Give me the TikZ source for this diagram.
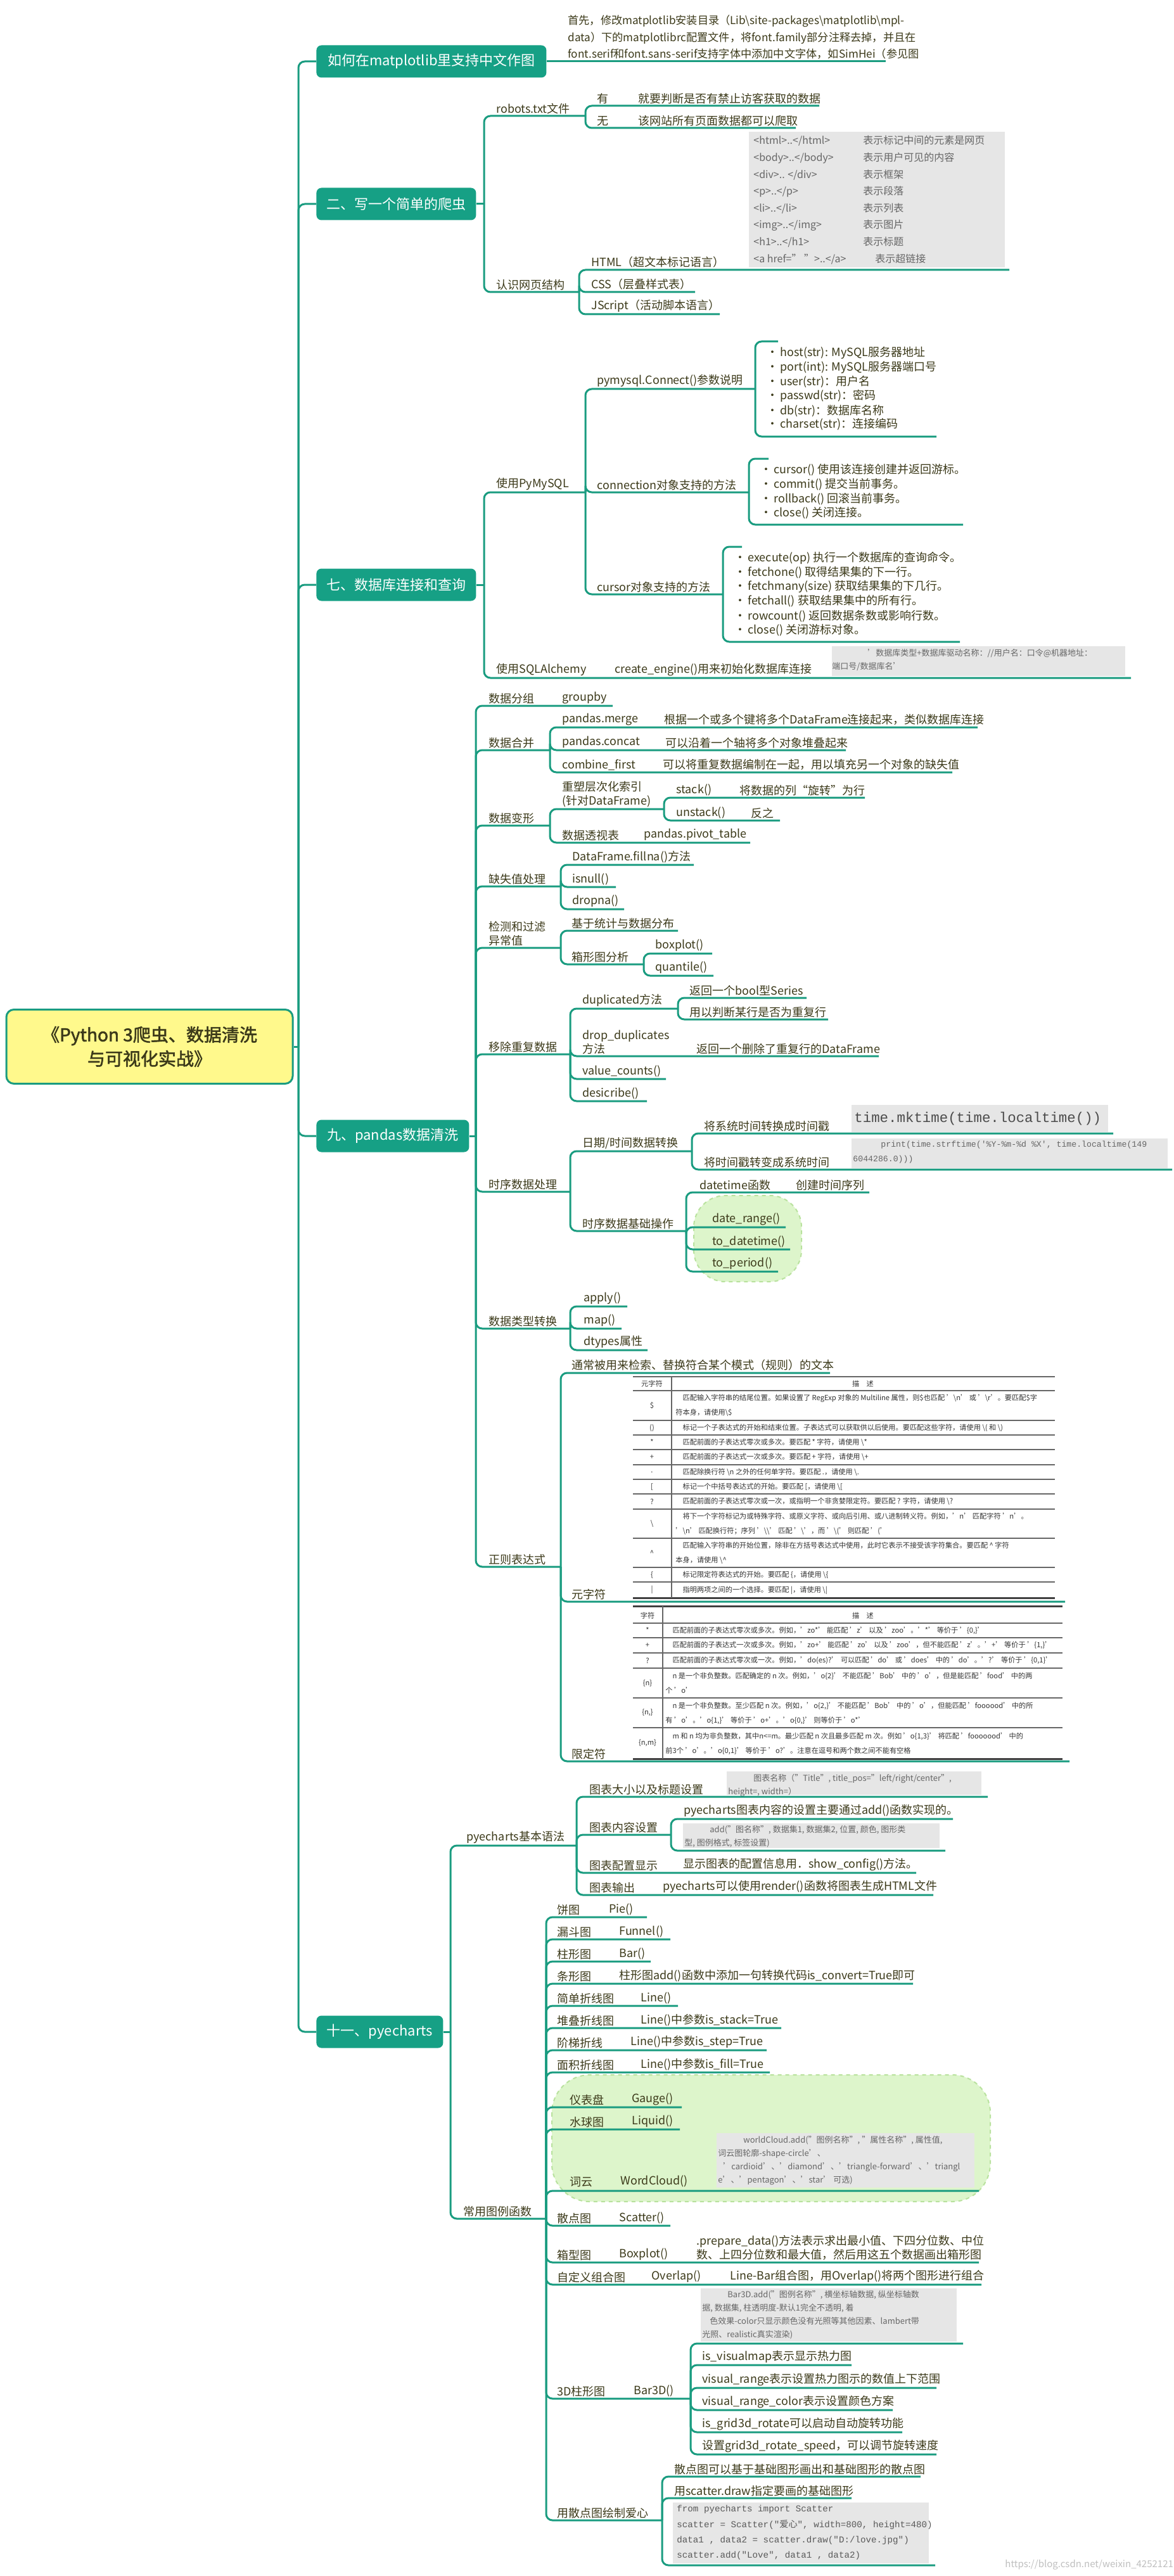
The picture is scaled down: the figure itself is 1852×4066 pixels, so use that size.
\documentclass[tikz,border=0pt]{standalone}
\usepackage{fontspec}
\setmainfont{Noto Sans CJK SC}[AutoFakeBold=2]
\newfontfamily\cjk{Noto Sans CJK SC}
\newfontfamily\mono{Liberation Mono}
\definecolor{ln}{HTML}{1A9C80}
\definecolor{brf}{HTML}{16A085}
\definecolor{txt}{HTML}{3C3A1A}
\definecolor{gbf}{HTML}{E6E6E6}
\definecolor{gtx}{HTML}{666666}
\definecolor{cloud}{HTML}{DDF5CB}
\definecolor{cloudb}{HTML}{B9E29E}
\newcommand\T[4]{\node[tx] (#1) at (#2,#3) {#4};}
\newcommand\U[4]{\draw[lk] (#1,#2) |- (#4,#3);}
\newcommand\G[5]{\node[gt] (#1) at (#2,#3) {#4};}
\tikzset{
 tx/.style={anchor=south west,inner sep=0pt,yshift=1.5pt,align=left,font=\fontsize{9}{11}\selectfont,text=txt},
 gt/.style={anchor=north west,inner sep=0pt,align=left,font=\fontsize{6.5}{10.5}\selectfont,text=gtx},
 lk/.style={draw=ln,line width=1.5pt,rounded corners=5pt},
 br/.style={fill=brf,rounded corners=4pt,text=white,font=\fontsize{11}{13}\selectfont,minimum height=25.5pt,inner xsep=7pt,anchor=west,align=left},
 gbox/.style={fill=gbf},
 tb/.style={font=\fontsize{5.6}{11.5}\selectfont,text=black!80,inner sep=0pt,align=left},
 tl/.style={draw=black!60,line width=0.8pt},
 tlt/.style={draw=black!75,line width=1.5pt}
}
\begin{document}
\begin{tikzpicture}[x=0.5pt,y=-0.5pt]
\useasboundingbox (0,0) rectangle (1852,4066);
\fill[white] (0,0) rectangle (1852,4066);
% root
\node[fill=yellow!45,draw=ln,line width=1.5pt,rounded corners=6pt,minimum width=226pt,minimum height=58.5pt,align=center,font=\bfseries\fontsize{14}{19}\selectfont,text=txt] (root) at (236,1652) {《Python 3爬虫、数据清洗\\与可视化实战》};
\draw[lk] (root.east) -- (471,1652);
\node[br,minimum width=181.5pt] (b1) at (499,97) {如何在matplotlib里支持中文作图};
\node[br,minimum width=126pt] (b2) at (499,322) {二、写一个简单的爬虫};
\node[br,minimum width=126pt] (b3) at (499,923) {七、数据库连接和查询};
\node[br,minimum width=120.5pt] (b4) at (499,1793) {九、pandas数据清洗};
\node[br,minimum width=100pt] (b5) at (499,3207) {十一、pyecharts};
\foreach \b in {b1,b2,b3,b4,b5} {\draw[lk] (471,1652) |- (\b.west);}
% ---- branch 1
\node[tx,font=\fontsize{8.6}{13.2}\selectfont] (m1) at (896,97) {首先，修改matplotlib安装目录（Lib\textbackslash site-packages\textbackslash matplotlib\textbackslash mpl-\\data）下的matplotlibrc配置文件，将font.family部分注释去掉，并且在\\font.serif和font.sans-serif支持字体中添加中文字体，如SimHei（参见图};
\draw[lk] (b1.east) -- (1398,97);
% ---- branch 2
\draw[lk] (b2.east) -- (764,322);
\T{r1}{783}{183}{robots.txt文件} \U{764}{322}{183}{924}
\T{r1a}{942}{167}{有} \T{r1ac}{1007}{167}{就要判断是否有禁止访客获取的数据} \U{924}{183}{167}{1293}
\T{r1b}{942}{202}{无} \T{r1bc}{1007}{202}{该网站所有页面数据都可以爬取} \U{924}{183}{202}{1256}
\T{r2}{783}{461}{认识网页结构} \U{764}{322}{461}{914}
\T{h1}{933}{426}{HTML（超文本标记语言）} \U{914}{461}{426}{1593}
\fill[gbox] (1182,208) rectangle (1586,422);
\foreach \y/\a/\d [count=\i] in {214/{<html>..</html>}/表示标记中间的元素是网页,241/{<body>..</body>}/表示用户可见的内容,268/{<div>.. </div>}/表示框架,294/{<p>..</p>}/表示段落,321/{<li>..</li>}/表示列表,347/{<img>..</img>}/表示图片,374/{<h1>..</h1>}/表示标题}
 {\node[gt,font=\fontsize{8}{10}\selectfont] (ht\i) at (1189,\y) {\a}; \node[gt,font=\fontsize{8}{10}\selectfont] (hd\i) at (1362,\y) {\d};}
\node[gt,font=\fontsize{8}{10}\selectfont] (ht8) at (1189,401) {<a href=" ">..</a>};
\node[gt,font=\fontsize{8}{10}\selectfont] (hd8) at (1381,401) {表示超链接};
\T{h2}{933}{461}{CSS（层叠样式表）} \U{914}{461}{461}{1097}
\T{h3}{933}{496}{JScript（活动脚本语言）} \U{914}{461}{496}{1136}
% ---- branch 3
\draw[lk] (b3.east) -- (764,923);
\T{p1}{783}{777}{使用PyMySQL} \U{764}{923}{777}{924}
\T{p11}{942}{614}{pymysql.Connect()参数说明} \U{924}{777}{614}{1192}
\U{1192}{614}{689}{1478} \U{1192}{614}{539}{1228}
\foreach \y/\s [count=\i] in {560/{host(str): MySQL服务器地址},583/{port(int): MySQL服务器端口号},606/{user(str)：用户名},628/{passwd(str)：密码},652/{db(str)：数据库名称},673/{charset(str)：连接编码}}
 {\node[tx,anchor=west,yshift=0pt] (pa\i) at (1210,\y) {•\,\s};}
\T{p12}{942}{777}{connection对象支持的方法} \U{924}{777}{777}{1182}
\U{1182}{777}{828}{1520} \U{1182}{777}{724}{1213}
\foreach \y/\s [count=\i] in {745/{cursor() 使用该连接创建并返回游标。},768/{commit() 提交当前事务。},791/{rollback() 回滚当前事务。},813/{close() 关闭连接。}}
 {\node[tx,anchor=west,yshift=0pt] (pb\i) at (1200,\y) {•\,\s};}
\T{p13}{942}{938}{cursor对象支持的方法} \U{924}{777}{938}{1141}
\U{1141}{938}{1013}{1515} \U{1141}{938}{863}{1171}
\foreach \y/\s [count=\i] in {884/{execute(op) 执行一个数据库的查询命令。},907/{fetchone() 取得结果集的下一行。},929/{fetchmany(size) 获取结果集的下几行。},952/{fetchall() 获取结果集中的所有行。},976/{rowcount() 返回数据条数或影响行数。},998/{close() 关闭游标对象。}}
 {\node[tx,anchor=west,yshift=0pt] (pc\i) at (1159,\y) {•\,\s};}
\fill[gbox] (1313,1020) rectangle (1776,1067);
\G{sq}{1313}{1024}{\hspace*{28pt}'数据库类型+数据库驱动名称：//用户名：口令@机器地址：\\端口号/数据库名'}{}
\T{p2}{783}{1070}{使用SQLAlchemy} \T{p21}{970}{1070}{create\_engine()用来初始化数据库连接} \U{764}{923}{1070}{1785}
% ---- branch 4
\draw[lk] (b4.east) -- (751,1793);
\T{d1}{771}{1114}{数据分组} \T{d1a}{887}{1114}{groupby} \U{751}{1793}{1114}{967}
\T{d2}{771}{1184}{数据合并} \U{751}{1793}{1184}{868}
\T{d21}{887}{1148}{pandas.merge} \T{d21a}{1048}{1148}{根据一个或多个键将多个DataFrame连接起来，类似数据库连接} \U{868}{1184}{1148}{1543}
\T{d22}{887}{1184}{pandas.concat} \T{d22a}{1050}{1184}{可以沿着一个轴将多个对象堆叠起来} \U{868}{1184}{1184}{1335}
\T{d23}{887}{1219}{combine\_first} \T{d23a}{1046}{1219}{可以将重复数据编制在一起，用以填充另一个对象的缺失值} \U{868}{1184}{1219}{1503}
\T{d3}{771}{1303}{数据变形} \U{751}{1793}{1303}{868}
\T{d31}{887}{1277}{重塑层次化索引\\(针对DataFrame)} \U{868}{1303}{1277}{1048}
\T{d311}{1067}{1259}{stack()} \T{d311a}{1167}{1259}{将数据的列“旋转”为行} \U{1048}{1277}{1259}{1365}
\T{d312}{1067}{1295}{unstack()} \T{d312a}{1185}{1295}{反之} \U{1048}{1277}{1295}{1231}
\T{d32}{887}{1330}{数据透视表} \T{d32a}{1016}{1330}{pandas.pivot\_table} \U{868}{1303}{1330}{1184}
\T{d4}{771}{1399}{缺失值处理} \U{751}{1793}{1399}{885}
\T{d41}{903}{1365}{DataFrame.fillna()方法} \U{885}{1399}{1365}{1095}
\T{d42}{903}{1400}{isnull()} \U{885}{1399}{1400}{972}
\T{d43}{903}{1435}{dropna()} \U{885}{1399}{1435}{985}
\T{d5}{771}{1496}{检测和过滤\\异常值} \U{751}{1793}{1496}{885}
\T{d51}{902}{1469}{基于统计与数据分布} \U{885}{1496}{1469}{1070}
\T{d52}{902}{1522}{箱形图分析} \U{885}{1496}{1522}{1016}
\T{d521}{1034}{1505}{boxplot()} \U{1016}{1522}{1505}{1124}
\T{d522}{1034}{1540}{quantile()} \U{1016}{1522}{1540}{1126}
\T{d6}{771}{1664}{移除重复数据} \U{751}{1793}{1664}{900}
\T{d61}{919}{1592}{duplicated方法} \U{900}{1664}{1592}{1070}
\T{d611}{1088}{1575}{返回一个bool型Series} \U{1070}{1592}{1575}{1273}
\T{d612}{1088}{1609}{用以判断某行是否为重复行} \U{1070}{1592}{1609}{1307}
\T{d62}{919}{1667}{drop\_duplicates\\方法} \T{d62a}{1099}{1667}{返回一个删除了重复行的DataFrame} \U{900}{1664}{1667}{1387}
\T{d63}{919}{1703}{value\_counts()} \U{900}{1664}{1703}{1051}
\T{d64}{919}{1738}{desicribe()} \U{900}{1664}{1738}{1021}
\T{d7}{771}{1881}{时序数据处理} \U{751}{1793}{1881}{900}
\T{d71}{919}{1817}{日期/时间数据转换} \U{900}{1881}{1817}{1092}
\fill[gbox] (1344,1744) rectangle (1749,1787);
\node[anchor=west,inner sep=0pt,font=\mono\fontsize{11.2}{13}\selectfont,text=black!70] (tm) at (1348,1766) {time.mktime(time.localtime())};
\T{d711}{1111}{1789}{将系统时间转换成时间戳} \U{1092}{1817}{1789}{1757}
\fill[gbox] (1344,1797) rectangle (1843,1844);
\node[gt,font=\mono\fontsize{6.6}{11.5}\selectfont] (pt) at (1346,1801) {\hspace*{22pt}print(time.strftime('\%Y-\%m-\%d \%X', time.localtime(149\\6044286.0)))};
\T{d712}{1111}{1846}{将时间戳转变成系统时间} \U{1092}{1817}{1846}{1850}
\T{d72}{919}{1943}{时序数据基础操作} \U{900}{1881}{1943}{1083}
\T{d721}{1104}{1882}{datetime函数} \T{d721a}{1256}{1882}{创建时间序列} \U{1083}{1943}{1882}{1372}
\draw[fill=cloud,draw=cloudb,dashed,line width=1pt,rounded corners=25pt] (1095,1887) rectangle (1265,2023);
\T{d722}{1124}{1937}{date\_range()} \U{1083}{1943}{1937}{1240}
\T{d723}{1124}{1972}{to\_datetime()} \U{1083}{1943}{1972}{1247}
\T{d724}{1124}{2007}{to\_period()} \U{1083}{1943}{2007}{1228}
\T{d8}{771}{2097}{数据类型转换} \U{751}{1793}{2097}{900}
\T{d81}{921}{2062}{apply()} \U{900}{2097}{2062}{990}
\T{d82}{921}{2097}{map()} \U{900}{2097}{2097}{981}
\T{d83}{921}{2131}{dtypes属性} \U{900}{2097}{2131}{1022}
\T{d9}{771}{2473}{正则表达式} \U{751}{1793}{2473}{885}
\T{d91}{902}{2167}{通常被用来检索、替换符合某个模式（规则）的文本} \U{885}{2473}{2167}{1310}
\T{d92}{902}{2528}{元字符} \U{885}{2473}{2528}{1681}
\T{d93}{902}{2780}{限定符} \U{885}{2473}{2780}{1688}
% table 1
\draw[tl] (999,2173) -- (1665,2173);
\foreach \y in {2195,2242,2265,2288,2312,2335,2358,2382,2428,2474,2497} {\draw[tl,line width=1.1pt] (999,\y) -- (1665,\y);}
\draw[tlt] (999,2522) -- (1665,2522);
\draw[tl] (1060,2173) -- (1060,2522);
\node[tb] (t1h) at (1029,2184) {元字符}; \node[tb] (t1d) at (1362,2184) {描\quad 述};
\foreach \a/\b/\s [count=\i] in {2195/2242/\$,2242/2265/(),2265/2288/*,2288/2312/+,2312/2335/.,2335/2358/[,2358/2382/?,2382/2428/\textbackslash,2428/2474/\textasciicircum,2474/2497/\{,2497/2522/|}
 {\node[tb] (t1s\i) at (1029,{(\a+\b)/2}) {\s};}
\node[tb,anchor=west] (t1r1) at (1066,2218) {\quad 匹配输入字符串的结尾位置。如果设置了 RegExp 对象的 Multiline 属性，则\$也匹配 '\textbackslash n' 或 '\textbackslash r'。要匹配\$字\\符本身，请使用\textbackslash\$};
\node[tb,anchor=west] (t1r2) at (1066,2254) {\quad 标记一个子表达式的开始和结束位置。子表达式可以获取供以后使用。要匹配这些字符，请使用 \textbackslash( 和 \textbackslash)};
\node[tb,anchor=west] (t1r3) at (1066,2277) {\quad 匹配前面的子表达式零次或多次。要匹配 * 字符，请使用 \textbackslash*};
\node[tb,anchor=west] (t1r4) at (1066,2300) {\quad 匹配前面的子表达式一次或多次。要匹配 + 字符，请使用 \textbackslash+};
\node[tb,anchor=west] (t1r5) at (1066,2324) {\quad 匹配除换行符 \textbackslash n 之外的任何单字符。要匹配 .，请使用 \textbackslash.};
\node[tb,anchor=west] (t1r6) at (1066,2347) {\quad 标记一个中括号表达式的开始。要匹配 [，请使用 \textbackslash[};
\node[tb,anchor=west] (t1r7) at (1066,2370) {\quad 匹配前面的子表达式零次或一次，或指明一个非贪婪限定符。要匹配 ? 字符，请使用 \textbackslash?};
\node[tb,anchor=west] (t1r8) at (1066,2405) {\quad 将下一个字符标记为或特殊字符、或原义字符、或向后引用、或八进制转义符。例如，'n' 匹配字符 'n'。\\'\textbackslash n' 匹配换行符；序列 '\textbackslash\textbackslash' 匹配 '\textbackslash'，而 '\textbackslash(' 则匹配 '('};
\node[tb,anchor=west] (t1r9) at (1066,2451) {\quad 匹配输入字符串的开始位置，除非在方括号表达式中使用，此时它表示不接受该字符集合。要匹配 \textasciicircum{} 字符\\本身，请使用 \textbackslash\textasciicircum};
\node[tb,anchor=west] (t1r10) at (1066,2486) {\quad 标记限定符表达式的开始。要匹配 \{，请使用 \textbackslash\{};
\node[tb,anchor=west] (t1r11) at (1066,2510) {\quad 指明两项之间的一个选择。要匹配 |，请使用 \textbackslash|};
% table 2
\draw[tlt] (999,2535) -- (1677,2535);
\foreach \y in {2562,2585,2609,2633,2680,2727} {\draw[tl,line width=1.1pt] (999,\y) -- (1677,\y);}
\draw[tlt] (999,2776) -- (1677,2776);
\draw[tl] (1046,2535) -- (1046,2776);
\node[tb] (t2h) at (1022,2550) {字符}; \node[tb] (t2d) at (1362,2550) {描\quad 述};
\foreach \a/\b/\s [count=\i] in {2562/2585/*,2585/2609/+,2609/2633/?,2633/2680/\{n\},2680/2727/{\{n,\}},2727/2776/{\{n,m\}}}
 {\node[tb] (t2s\i) at (1022,{(\a+\b)/2}) {\s};}
\node[tb,anchor=west] (t2r1) at (1050,2574) {\quad 匹配前面的子表达式零次或多次。例如，'zo*' 能匹配 'z' 以及 'zoo'。'*' 等价于 '\{0,\}'};
\node[tb,anchor=west] (t2r2) at (1050,2597) {\quad 匹配前面的子表达式一次或多次。例如，'zo+' 能匹配 'zo' 以及 'zoo'，但不能匹配 'z'。'+' 等价于 '\{1,\}'};
\node[tb,anchor=west] (t2r3) at (1050,2621) {\quad 匹配前面的子表达式零次或一次。例如，'do(es)?' 可以匹配 'do' 或 'does' 中的 'do'。'?' 等价于 '\{0,1\}'};
\node[tb,anchor=west] (t2r4) at (1050,2657) {\quad n 是一个非负整数。匹配确定的 n 次。例如，'o\{2\}' 不能匹配 'Bob' 中的 'o'，但是能匹配 'food' 中的两\\个 'o'};
\node[tb,anchor=west] (t2r5) at (1050,2704) {\quad n 是一个非负整数。至少匹配 n 次。例如，'o\{2,\}' 不能匹配 'Bob' 中的 'o'，但能匹配 'foooood' 中的所\\有 'o'。'o\{1,\}' 等价于 'o+'。'o\{0,\}' 则等价于 'o*'};
\node[tb,anchor=west] (t2r6) at (1050,2752) {\quad m 和 n 均为非负整数，其中n<=m。最少匹配 n 次且最多匹配 m 次。例如 'o\{1,3\}' 将匹配 'fooooood' 中的\\前3个 'o'。'o\{0,1\}' 等价于 'o?'。注意在逗号和两个数之间不能有空格};
% ---- branch 5
\draw[lk] (b5.east) -- (711,3207);
\T{e1}{736}{2913}{pyecharts基本语法} \U{711}{3207}{2913}{910}
\fill[gbox] (1147,2796) rectangle (1549,2833);
\G{e11g}{1149}{2800}{\hspace*{20pt}图表名称（"Title", title\_pos="left/right/center",\\height=, width=）}{}
\T{e11}{930}{2836}{图表大小以及标题设置} \U{910}{2913}{2836}{1559}
\T{e12}{930}{2896}{图表内容设置} \U{910}{2913}{2896}{1059}
\T{e121}{1079}{2871}{pyecharts图表内容的设置主要通过add()函数实现的。} \U{1059}{2896}{2871}{1504}
\fill[gbox] (1078,2878) rectangle (1483,2917);
\G{e122}{1080}{2881}{\hspace*{20pt}add("图名称", 数据集1, 数据集2, 位置, 颜色, 图形类\\型, 图例格式, 标签设置)}{}
\U{1059}{2896}{2921}{1492}
\T{e13}{930}{2956}{图表配置显示} \T{e13a}{1078}{2956}{显示图表的配置信息用．show\_config()方法。} \U{910}{2913}{2956}{1446}
\T{e14}{930}{2991}{图表输出} \T{e14a}{1046}{2991}{pyecharts可以使用render()函数将图表生成HTML文件} \U{910}{2913}{2991}{1473}
\T{e2}{731}{3502}{常用图例函数} \U{711}{3207}{3502}{862}
\draw[fill=cloud,draw=cloudb,dashed,line width=1pt,rounded corners=30pt] (871,3275) rectangle (1563,3475);
\T{f1}{879}{3026}{饼图} \T{f1a}{961}{3026}{Pie()} \U{862}{3502}{3026}{1021}
\T{f2}{879}{3061}{漏斗图} \T{f2a}{977}{3061}{Funnel()} \U{862}{3502}{3061}{1058}
\T{f3}{879}{3096}{柱形图} \T{f3a}{977}{3096}{Bar()} \U{862}{3502}{3096}{1027}
\T{f4}{879}{3131}{条形图} \T{f4a}{977}{3131}{柱形图add()函数中添加一句转换代码is\_convert=True即可} \U{862}{3502}{3131}{1441}
\T{f5}{879}{3166}{简单折线图} \T{f5a}{1011}{3166}{Line()} \U{862}{3502}{3166}{1070}
\T{f6}{879}{3201}{堆叠折线图} \T{f6a}{1011}{3201}{Line()中参数is\_stack=True} \U{862}{3502}{3201}{1233}
\T{f7}{879}{3236}{阶梯折线} \T{f7a}{995}{3236}{Line()中参数is\_step=True} \U{862}{3502}{3236}{1210}
\T{f8}{879}{3271}{面积折线图} \T{f8a}{1011}{3271}{Line()中参数is\_fill=True} \U{862}{3502}{3271}{1215}
\T{f9}{899}{3326}{仪表盘} \T{f9a}{997}{3326}{Gauge()} \U{862}{3502}{3326}{1076}
\T{f10}{899}{3361}{水球图} \T{f10a}{997}{3361}{Liquid()} \U{862}{3502}{3361}{1073}
\fill[gbox] (1131,3367) rectangle (1538,3453);
\G{f11g}{1133}{3371}{\hspace*{20pt}worldCloud.add("图例名称", "属性名称", 属性值,\\词云图轮廓-shape-circle'、\\\hspace*{4pt}'cardioid'、'diamond'、'triangle-forward'、'triangl\\e'、'pentagon'、'star' 可选)}{}
\T{f11}{899}{3455}{词云} \T{f11a}{979}{3455}{WordCloud()} \U{862}{3502}{3458}{1545}
\T{f12}{879}{3513}{散点图} \T{f12a}{977}{3513}{Scatter()} \U{862}{3502}{3513}{1058}
\T{f13}{879}{3571}{箱型图} \T{f13a}{977}{3571}{Boxplot()} \T{f13b}{1099}{3571}{.prepare\_data()方法表示求出最小值、下四分位数、中位\\数、上四分位数和最大值，然后用这五个数据画出箱形图} \U{862}{3502}{3571}{1545}
\T{f14}{879}{3606}{自定义组合图} \T{f14a}{1028}{3606}{Overlap()} \T{f14b}{1152}{3606}{Line-Bar组合图，用Overlap()将两个图形进行组合} \U{862}{3502}{3606}{1549}
\T{f15}{879}{3786}{3D柱形图} \T{f15a}{1000}{3786}{Bar3D()} \U{862}{3502}{3786}{1090}
\fill[gbox] (1106,3612) rectangle (1510,3696);
\G{f15g}{1108}{3615}{\hspace*{20pt}Bar3D.add("图例名称", 横坐标轴数据, 纵坐标轴数\\据, 数据集, 柱透明度-默认1完全不透明, 着\\\hspace*{6pt}色效果-color只显示颜色没有光照等其他因素、lambert带\\光照、realistic真实渲染)}{}
\U{1090}{3786}{3699}{1520}
\T{f152}{1108}{3733}{is\_visualmap表示显示热力图} \U{1090}{3786}{3733}{1344}
\T{f153}{1108}{3769}{visual\_range表示设置热力图示的数值上下范围} \U{1090}{3786}{3769}{1478}
\T{f154}{1108}{3804}{visual\_range\_color表示设置颜色方案} \U{1090}{3786}{3804}{1409}
\T{f155}{1108}{3839}{is\_grid3d\_rotate可以启动自动旋转功能} \U{1090}{3786}{3839}{1424}
\T{f156}{1108}{3874}{设置grid3d\_rotate\_speed，可以调节旋转速度} \U{1090}{3786}{3874}{1478}
\T{f16}{879}{3978}{用散点图绘制爱心} \U{862}{3502}{3978}{1045}
\T{f161}{1064}{3909}{散点图可以基于基础图形画出和基础图形的散点图} \U{1045}{3978}{3909}{1453}
\T{f162}{1064}{3943}{用scatter.draw指定要画的基础图形} \U{1045}{3978}{3943}{1344}
\fill[gbox] (1062,3950) rectangle (1466,4046);
\node[gt,font=\mono\fontsize{7.1}{12.2}\selectfont,text=black!65] (code) at (1068,3954) {from pyecharts import Scatter\\scatter = Scatter("{\cjk 爱心}", width=800, height=480)\\data1 , data2 = scatter.draw("D:/love.jpg")\\scatter.add("Love", data1 , data2)};
\U{1045}{3978}{4049}{1476}
\node[anchor=west,inner sep=0pt,font=\fontsize{7.5}{9}\selectfont,text=black!25] (wm) at (1586,4048) {https://blog.csdn.net/weixin\_42521211};
\end{tikzpicture}
\end{document}
